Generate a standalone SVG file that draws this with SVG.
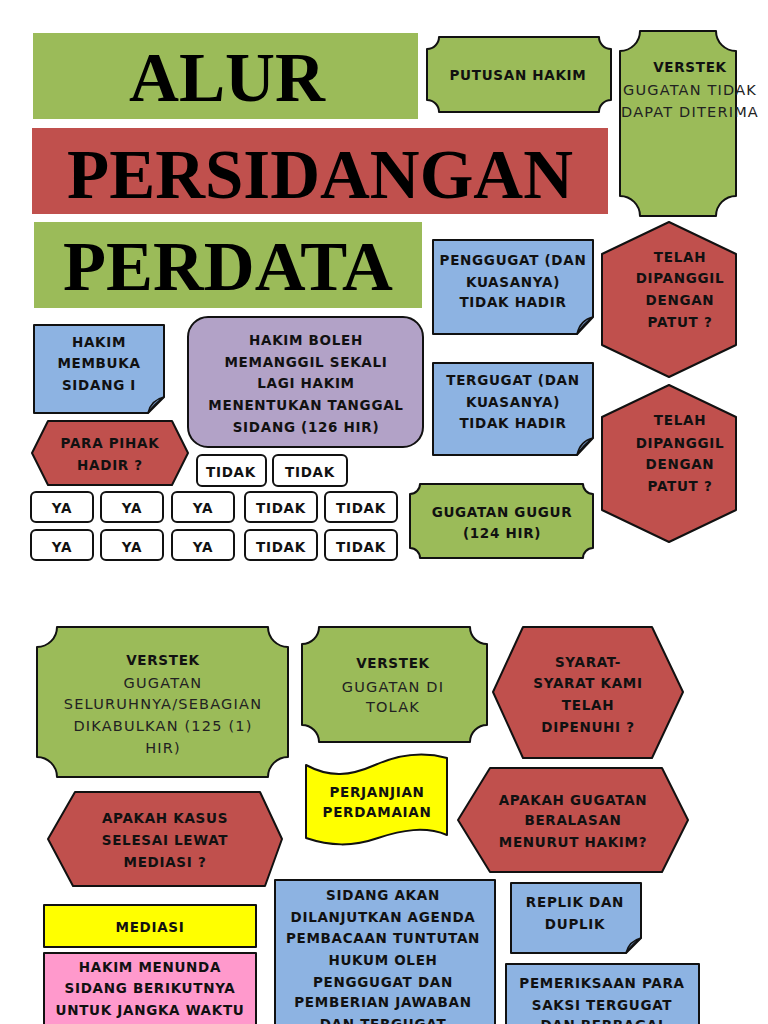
<svg xmlns="http://www.w3.org/2000/svg" width="768" height="1024" viewBox="0 0 768 1024">
<style>
.s{stroke:#111;stroke-width:2;stroke-linejoin:round}
.g{fill:#9bbb59}.r{fill:#c0504d}.bl{fill:#8db3e2}.p{fill:#b2a2c7}.y{fill:#ffff00}.pk{fill:#ff99cc}.w{fill:#fff}
.fold{fill:#6f8fb8;stroke:#111;stroke-width:1.5;stroke-linejoin:round}
text{font-family:"DejaVu Sans","Liberation Sans",sans-serif;font-size:13.5px;fill:#111;text-anchor:middle}
.b{font-weight:bold;letter-spacing:0.7px}
.n{font-weight:normal;font-size:14.5px;letter-spacing:1.2px;fill:#222}
.t{font-family:"Liberation Serif","Times New Roman",serif;font-weight:bold;font-size:70px;text-anchor:start;fill:#000}
</style>
<rect width="768" height="1024" fill="#fff"/>

<g id="title">
<rect x="33" y="33" width="385" height="86" class="g"/>
<rect x="32" y="128" width="576" height="86" class="r"/>
<rect x="34" y="222" width="388" height="86" class="g"/>
<text class="t" x="129" y="101" textLength="196" lengthAdjust="spacingAndGlyphs">ALUR</text>
<text class="t" x="67" y="198" textLength="506" lengthAdjust="spacingAndGlyphs">PERSIDANGAN</text>
<text class="t" x="63" y="290" textLength="330" lengthAdjust="spacingAndGlyphs">PERDATA</text>
</g>

<g id="putusan-hakim">
<path class="s g" d="M439,37 H599 A12,12 0 0 0 611,49 V100 A12,12 0 0 0 599,112 H439 A12,12 0 0 0 427,100 V49 A12,12 0 0 0 439,37 Z"/>
<text class="b" x="518" y="80">PUTUSAN HAKIM</text>
</g>

<g id="verstek-tidak-diterima">
<path class="s g" d="M640,31 H716 A20,20 0 0 0 736,51 V196 A20,20 0 0 0 716,216 H640 A20,20 0 0 0 620,196 V51 A20,20 0 0 0 640,31 Z"/>
<text class="b" x="690" y="72">VERSTEK</text>
<text class="n" x="690" y="95">GUGATAN TIDAK</text>
<text class="n" x="690" y="117">DAPAT DITERIMA</text>
</g>

<g id="penggugat-tidak-hadir">
<path class="s bl" d="M433,240 H593 V317 L577,334 H433 Z"/>
<path class="fold" d="M577,334 Q580,320 593,317 Q583,324 577,334 Z"/>
<text class="b" x="513" y="265">PENGGUGAT (DAN</text>
<text class="b" x="513" y="287">KUASANYA)</text>
<text class="b" x="513" y="307">TIDAK HADIR</text>
</g>

<g id="telah-dipanggil-1">
<polygon class="s r" points="669,222 736,254 736,345 669,377 602,345 602,254"/>
<text class="b" x="680" y="262">TELAH</text>
<text class="b" x="680" y="283">DIPANGGIL</text>
<text class="b" x="680" y="305">DENGAN</text>
<text class="b" x="680" y="327">PATUT ?</text>
</g>

<g id="tergugat-tidak-hadir">
<path class="s bl" d="M433,363 H593 V438 L577,455 H433 Z"/>
<path class="fold" d="M577,455 Q580,441 593,438 Q583,445 577,455 Z"/>
<text class="b" x="513" y="385">TERGUGAT (DAN</text>
<text class="b" x="513" y="407">KUASANYA)</text>
<text class="b" x="513" y="428">TIDAK HADIR</text>
</g>

<g id="telah-dipanggil-2">
<polygon class="s r" points="669,385 736,417 736,510 669,542 602,510 602,417"/>
<text class="b" x="680" y="425">TELAH</text>
<text class="b" x="680" y="448">DIPANGGIL</text>
<text class="b" x="680" y="469">DENGAN</text>
<text class="b" x="680" y="491">PATUT ?</text>
</g>

<g id="gugatan-gugur">
<path class="s g" d="M420,484 H583 A10,10 0 0 0 593,494 V548 A10,10 0 0 0 583,558 H420 A10,10 0 0 0 410,548 V494 A10,10 0 0 0 420,484 Z"/>
<text class="b" x="502" y="517">GUGATAN GUGUR</text>
<text class="b" x="502" y="538">(124 HIR)</text>
</g>

<g id="hakim-membuka">
<path class="s bl" d="M34,325 H164 V397 L148,413 H34 Z"/>
<path class="fold" d="M148,413 Q151,400 164,397 Q154,404 148,413 Z"/>
<text class="b" x="99" y="347">HAKIM</text>
<text class="b" x="99" y="368">MEMBUKA</text>
<text class="b" x="99" y="390">SIDANG I</text>
</g>

<g id="hakim-boleh">
<rect class="s p" x="188" y="317" width="235" height="130" rx="20"/>
<text class="b" x="306" y="345">HAKIM BOLEH</text>
<text class="b" x="306" y="367">MEMANGGIL SEKALI</text>
<text class="b" x="306" y="388">LAGI HAKIM</text>
<text class="b" x="306" y="410">MENENTUKAN TANGGAL</text>
<text class="b" x="306" y="432">SIDANG (126 HIR)</text>
</g>

<g id="para-pihak-hadir">
<polygon class="s r" points="32,453 48,421 172,421 188,453 172,485 48,485"/>
<text class="b" x="110" y="448">PARA PIHAK</text>
<text class="b" x="110" y="470">HADIR ?</text>
</g>

<g id="labels">
<rect class="s w" x="197" y="455" width="69" height="31" rx="5"/><text class="b" x="231" y="477">TIDAK</text>
<rect class="s w" x="273" y="455" width="74" height="31" rx="5"/><text class="b" x="310" y="477">TIDAK</text>
<rect class="s w" x="31" y="492" width="62" height="30" rx="5"/><text class="b" x="62" y="513">YA</text>
<rect class="s w" x="101" y="492" width="62" height="30" rx="5"/><text class="b" x="132" y="513">YA</text>
<rect class="s w" x="172" y="492" width="62" height="30" rx="5"/><text class="b" x="203" y="513">YA</text>
<rect class="s w" x="245" y="492" width="72" height="30" rx="5"/><text class="b" x="281" y="513">TIDAK</text>
<rect class="s w" x="325" y="492" width="72" height="30" rx="5"/><text class="b" x="361" y="513">TIDAK</text>
<rect class="s w" x="31" y="530" width="62" height="30" rx="5"/><text class="b" x="62" y="552">YA</text>
<rect class="s w" x="101" y="530" width="62" height="30" rx="5"/><text class="b" x="132" y="552">YA</text>
<rect class="s w" x="172" y="530" width="62" height="30" rx="5"/><text class="b" x="203" y="552">YA</text>
<rect class="s w" x="245" y="530" width="72" height="30" rx="5"/><text class="b" x="281" y="552">TIDAK</text>
<rect class="s w" x="325" y="530" width="72" height="30" rx="5"/><text class="b" x="361" y="552">TIDAK</text>
</g>

<g id="verstek-dikabulkan">
<path class="s g" d="M57,627 H268 A20,20 0 0 0 288,647 V757 A20,20 0 0 0 268,777 H57 A20,20 0 0 0 37,757 V647 A20,20 0 0 0 57,627 Z"/>
<text class="b" x="163" y="665">VERSTEK</text>
<text class="n" x="163" y="688">GUGATAN</text>
<text class="n" x="163" y="709">SELURUHNYA/SEBAGIAN</text>
<text class="n" x="163" y="731">DIKABULKAN (125 (1)</text>
<text class="n" x="163" y="753">HIR)</text>
</g>

<g id="verstek-ditolak">
<path class="s g" d="M319,627 H470 A17,17 0 0 0 487,644 V725 A17,17 0 0 0 470,742 H319 A17,17 0 0 0 302,725 V644 A17,17 0 0 0 319,627 Z"/>
<text class="b" x="393" y="668">VERSTEK</text>
<text class="n" x="393" y="692">GUGATAN DI</text>
<text class="n" x="393" y="712">TOLAK</text>
</g>

<g id="syarat-syarat">
<polygon class="s r" points="493,692 523,627 652,627 683,692 652,758 523,758"/>
<text class="b" x="588" y="667">SYARAT-</text>
<text class="b" x="588" y="688">SYARAT KAMI</text>
<text class="b" x="588" y="710">TELAH</text>
<text class="b" x="588" y="732">DIPENUHI ?</text>
</g>

<g id="perjanjian-perdamaian">
<path class="s y" d="M306,765 C330,778 350,776 375,765 C400,754 425,752 447,758 V835 C425,826 402,830 378,838 C352,847 330,846 306,838 Z"/>
<text class="b" x="377" y="797">PERJANJIAN</text>
<text class="b" x="377" y="817">PERDAMAIAN</text>
</g>

<g id="apakah-gugatan">
<polygon class="s r" points="458,820 490,768 662,768 688,820 662,872 490,872"/>
<text class="b" x="573" y="805">APAKAH GUGATAN</text>
<text class="b" x="573" y="825">BERALASAN</text>
<text class="b" x="573" y="847">MENURUT HAKIM?</text>
</g>

<g id="apakah-kasus">
<polygon class="s r" points="48,839 75,792 260,792 282,839 265,886 73,886"/>
<text class="b" x="165" y="823">APAKAH KASUS</text>
<text class="b" x="165" y="845">SELESAI LEWAT</text>
<text class="b" x="165" y="867">MEDIASI ?</text>
</g>

<g id="mediasi">
<rect class="s y" x="44" y="905" width="212" height="42"/>
<text class="b" x="150" y="932">MEDIASI</text>
</g>

<g id="hakim-menunda">
<rect class="s pk" x="44" y="953" width="212" height="90"/>
<text class="b" x="150" y="972">HAKIM MENUNDA</text>
<text class="b" x="150" y="993">SIDANG BERIKUTNYA</text>
<text class="b" x="150" y="1015">UNTUK JANGKA WAKTU</text>
</g>

<g id="sidang-akan">
<rect class="s bl" x="275" y="880" width="220" height="170"/>
<text class="b" x="383" y="900">SIDANG AKAN</text>
<text class="b" x="383" y="922">DILANJUTKAN AGENDA</text>
<text class="b" x="383" y="943">PEMBACAAN TUNTUTAN</text>
<text class="b" x="383" y="965">HUKUM OLEH</text>
<text class="b" x="383" y="987">PENGGUGAT DAN</text>
<text class="b" x="383" y="1007">PEMBERIAN JAWABAN</text>
<text class="b" x="383" y="1029">DAN TERGUGAT</text>
</g>

<g id="replik-duplik">
<path class="s bl" d="M511,883 H641 V938 L626,953 H511 Z"/>
<path class="fold" d="M626,953 Q629,941 641,938 Q632,944 626,953 Z"/>
<text class="b" x="575" y="907">REPLIK DAN</text>
<text class="b" x="575" y="929">DUPLIK</text>
</g>

<g id="pemeriksaan-saksi">
<rect class="s bl" x="506" y="964" width="193" height="80"/>
<text class="b" x="602" y="988">PEMERIKSAAN PARA</text>
<text class="b" x="602" y="1010">SAKSI TERGUGAT</text>
<text class="b" x="602" y="1030">DAN BERBAGAI</text>
</g>

<g id="connectors"></g>
</svg>
